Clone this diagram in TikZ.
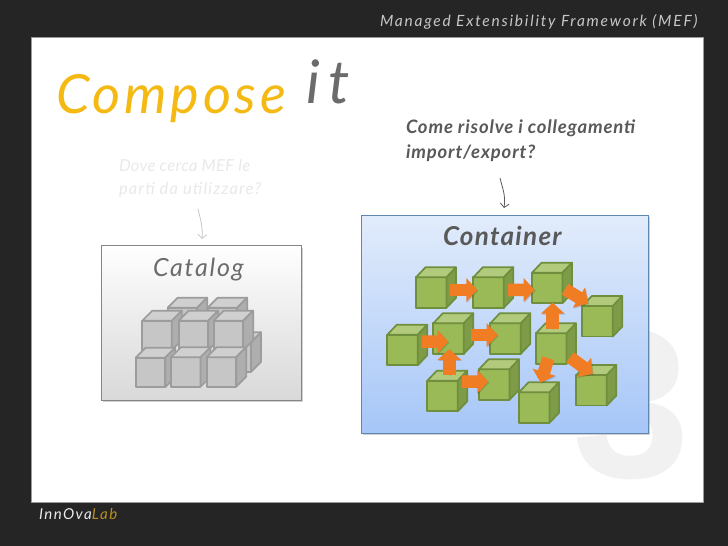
\documentclass[tikz,border=0pt]{standalone}
\usepackage{fontspec}
\setmainfont{Lato}
\usetikzlibrary{arrows.meta}
\definecolor{bgdark}{HTML}{252525}
\definecolor{panelrim}{HTML}{9A9A9A}
\definecolor{ghost}{HTML}{F1F1F1}
\definecolor{yellowt}{HTML}{F5B914}
\definecolor{greyt}{HTML}{6B6B6B}
\definecolor{darkt}{HTML}{595959}
\definecolor{fadet}{HTML}{E9E9E9}
\definecolor{goldt}{HTML}{B8901F}
\definecolor{orangea}{HTML}{F07D24}
\definecolor{gfront}{HTML}{9ABA58}
\definecolor{gtop}{HTML}{B2CA7C}
\definecolor{gside}{HTML}{7E9C47}
\definecolor{gline}{HTML}{6F8F3E}
\definecolor{sfront}{HTML}{C6C6C6}
\definecolor{stop}{HTML}{D0D0D0}
\definecolor{sside}{HTML}{AEAEAE}
\definecolor{sline}{HTML}{9C9C9C}
\definecolor{contop}{HTML}{E2ECFB}
\definecolor{conbot}{HTML}{A6C6F8}
\definecolor{conrim}{HTML}{5F87B0}
\newcommand\lsfont[3]{\itshape#1\fontsize{#2}{#2}\selectfont\addfontfeatures{LetterSpace=#3}}
\tikzset{
  lbl/.style={anchor=base west,inner sep=0pt,outer sep=0pt},
  greencube/.style={line width=1.7pt,draw=gline,line join=round},
  greycube/.style={line width=1.7pt,draw=sline,line join=round},
  blockarrow/.style={draw=orangea,line width=12.5pt,-{Triangle[length=11pt,width=23pt]},
     preaction={draw=black,opacity=.15,transform canvas={shift={(.9pt,-.9pt)}}}},
  handarrow/.style={line width=.8pt,-{Straight Barb[length=4pt,width=9pt]}},
  panelbox/.style={anchor=north west,inner sep=0pt,outer sep=0pt,line width=.8pt},
}
% style, front colour, top colour, side colour, name, x, y, size, dx, dy
\newcommand\boxcube[9]{%
  \node[#1,fill=#2,anchor=north west,inner sep=0pt,outer sep=0pt,minimum size=#7pt] (#4) at (#5,#6) {};
  \draw[#1,fill=#3] (#4.north west) -- ++(#8,-#9) -- ++(#7,0) -- (#4.north east) -- cycle;
  \draw[#1,fill=\sidecol] (#4.north east) -- ++(#8,-#9) -- ++(0,#7) -- (#4.south east) -- cycle;
}
\newcommand\gcube[3]{\def\sidecol{gside}\boxcube{greencube}{gfront}{gtop}{#1}{#2}{#3}{30.5}{9.5}{10}}
\newcommand\scube[3]{\def\sidecol{sside}\boxcube{greycube}{sfront}{stop}{#1}{#2}{#3}{29.5}{10}{10}}
\newcommand\linkarrow[6]{\draw[blockarrow] ([shift={(#2,#3)}]#1.center) -- ([shift={(#5,#6)}]#4.center);}
\begin{document}
\begin{tikzpicture}[x=1pt,y=-1pt]
\useasboundingbox (0,0) rectangle (728,546);
\fill[bgdark] (0,0) rectangle (728,546);
\node[panelbox,draw=panelrim,fill=white,minimum width=672pt,minimum height=464.5pt] (panel) at (31,37.5) {};
\begin{scope}
\clip (panel.north west) rectangle (panel.south east);
\node[anchor=base,inner sep=0pt,text=ghost,font={\fontspec{Liberation Sans}\bfseries\fontsize{212}{212}\selectfont}] (bignum) at (631,477) {3};
\end{scope}

\node[lbl,text=black!22,font=\lsfont{}{15.5}{11.5}] (header) at (380,27) {Managed Extensibility Framework (MEF)};
\node[lbl,text=yellowt,font=\lsfont{}{54}{7}] (tcompose) at (56,113) {Compose};
\node[lbl,text=greyt,font=\lsfont{}{60}{15}] (tit) at (306,103) {it};

\node[lbl,text=fadet,font=\lsfont{}{16.5}{2}] (qa1) at (119,171.5) {Dove cerca MEF le};
\node[lbl,text=fadet,font=\lsfont{}{16.5}{7}] (qa2) at (119,194) {parti da utilizzare?};
\node[lbl,text=darkt,font=\lsfont{\bfseries}{18.5}{4.5}] (qb1) at (406,133) {Come risolve i collegamenti};
\node[lbl,text=darkt,font=\lsfont{\bfseries}{18.5}{4.5}] (qb2) at (406,158) {import/export?};

% shadows and boxes
\fill[black,opacity=.18] (102.7,247.5) rectangle (302.8,402);
\node[panelbox,draw=black!48,top color=white,bottom color=black!15,middle color=white!92!black,minimum width=200.5pt,minimum height=155pt] (catalog) at (101.2,245.7) {};
\fill[black,opacity=.18] (363,216.5) rectangle (649.8,434.8);
\node[panelbox,draw=conrim,top color=contop,bottom color=conbot,minimum width=287pt,minimum height=218pt] (container) at (361.5,215) {};

\node[lbl,text=greyt,font=\lsfont{}{25}{7}] (tcatalog) at (153,276) {Catalog};
\node[lbl,text=darkt,font=\lsfont{\bfseries}{26}{5}] (tcontainer) at (443,245) {Container};

\coordinate (ca) at (198,209);
\coordinate (cb) at (202,239);
\draw[handarrow,draw=black!22] (ca) .. controls (200,218) and (203,226) .. (cb);
\coordinate (da) at (500,178);
\coordinate (db) at (504,208);
\draw[handarrow,draw=darkt] (da) .. controls (502,187) and (506,195) .. (db);

% grey cubes
\scube{s1}{167.7}{307.7}
\scube{s2}{207.7}{307.7}
\scube{s3}{221.5}{342.3}
\scube{s4}{142.3}{320.7}
\scube{s5}{178.7}{320.7}
\scube{s6}{213.7}{320.7}
\scube{s7}{135.7}{357.7}
\scube{s8}{171}{357.2}
\scube{s9}{206.7}{357.2}

% green cubes
\gcube{c1}{416}{277.3}
\gcube{c2}{473.3}{277.3}
\gcube{c3}{532}{272.7}
\gcube{c4}{582.3}{306}
\gcube{c7}{490.3}{323.3}
\gcube{c6}{433.3}{323.3}
\gcube{c5}{387.3}{334.7}
\gcube{c8}{536}{333.3}
\gcube{c10}{479}{369.3}
\gcube{c12}{576.3}{375}
\gcube{c9}{427.3}{380.7}
\gcube{c11}{519}{392.3}

% connectors
\linkarrow{c1}{18.75}{-2.55}{c2}{-11.25}{-2.55}
\linkarrow{c2}{19.45}{-2.55}{c3}{-12.55}{2}
\linkarrow{c3}{17.75}{1.3}{c4}{-9.25}{-17.95}
\linkarrow{c5}{19.15}{-8.3}{c6}{-0.25}{3.15}
\linkarrow{c6}{22.45}{-3.55}{c7}{-7.85}{-3.55}
\linkarrow{c9}{6.75}{-21}{c6}{0.75}{10.45}
\linkarrow{c9}{19.45}{-14.3}{c10}{-5.95}{-2.85}
\linkarrow{c8}{1.45}{-19.55}{c3}{5.45}{14.7}
\linkarrow{c8}{-2.95}{9.75}{c11}{6.45}{-24.85}
\linkarrow{c8}{18.75}{8.75}{c12}{1.15}{-16.25}

\node[lbl,text=white!92!black,font=\lsfont{}{15}{10}] (brand) at (39,519) {InnOva\textcolor{goldt}{Lab}};
\end{tikzpicture}
\end{document}
